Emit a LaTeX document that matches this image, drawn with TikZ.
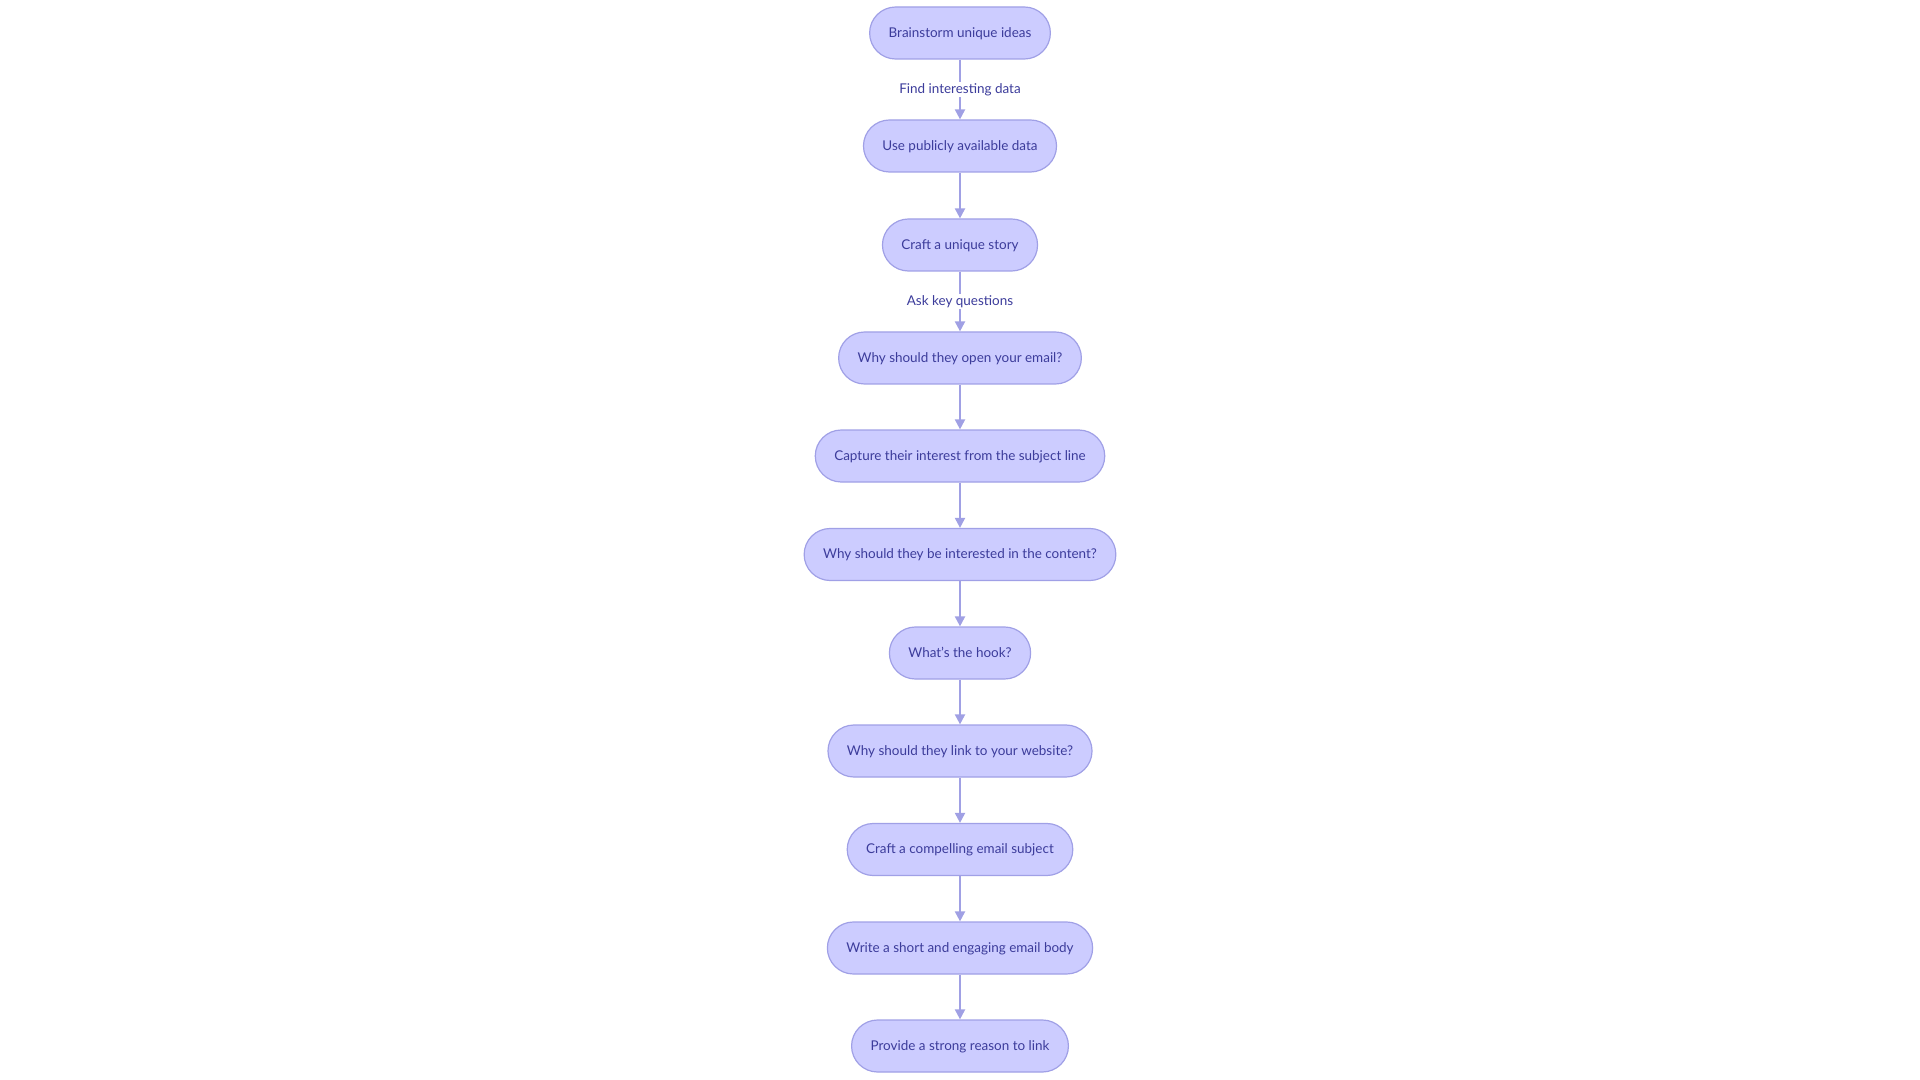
\documentclass[tikz,border=0pt]{standalone}
\usepackage{fontspec}
\setmainfont{Lato}
\usetikzlibrary{arrows.meta}

\definecolor{stepfill}{RGB}{204,204,255}
\definecolor{stepline}{RGB}{160,160,230}
\definecolor{steptext}{RGB}{60,60,155}
\definecolor{flowline}{RGB}{160,160,228}

\tikzset{every picture/.style={line width=0.75pt}}

\begin{document}
\begin{tikzpicture}[x=0.75pt,y=0.75pt,yscale=-1,
  stepbox/.style={draw=stepline,fill=stepfill,text=steptext,line width=0.9pt,
    rounded corners=19.5pt,minimum height=39pt,inner xsep=14.25pt,
    text height=7.4pt,text depth=1.2pt,
    font=\fontsize{10.1pt}{12pt}\selectfont},
  flow/.style={draw=flowline,line width=1.5pt,-{Triangle[width=7.5pt,length=7.5pt]}},
  flowlabel/.style={fill=white,text=steptext,inner sep=1.5pt,
    text height=7.4pt,text depth=1.2pt,
    font=\fontsize{10.1pt}{12pt}\selectfont}]

\useasboundingbox (0,0) rectangle (1920,1080);

\node [stepbox] (brainstorm) at (960,33) {Brainstorm unique ideas};
\node [stepbox] (publicdata) at (960,146) {Use publicly available data};
\node [stepbox] (story) at (960,245) {Craft a unique story};
\node [stepbox] (openmail) at (960,358) {Why should they open your email?};
\node [stepbox] (capture) at (960,456) {Capture their interest from the subject line};
\node [stepbox] (content) at (960,554.5) {Why should they be interested in the content?};
\node [stepbox] (hook) at (960,653) {What’s the hook?};
\node [stepbox] (linksite) at (960,751) {Why should they link to your website?};
\node [stepbox] (subject) at (960,849.5) {Craft a compelling email subject};
\node [stepbox] (body) at (960,948) {Write a short and engaging email body};
\node [stepbox] (reason) at (960,1046) {Provide a strong reason to link};

\draw [flow] (brainstorm) -- node [flowlabel] {Find interesting data} (publicdata);
\draw [flow] (publicdata) -- (story);
\draw [flow] (story) -- node [flowlabel] {Ask key questions} (openmail);
\draw [flow] (openmail) -- (capture);
\draw [flow] (capture) -- (content);
\draw [flow] (content) -- (hook);
\draw [flow] (hook) -- (linksite);
\draw [flow] (linksite) -- (subject);
\draw [flow] (subject) -- (body);
\draw [flow] (body) -- (reason);

\end{tikzpicture}
\end{document}
